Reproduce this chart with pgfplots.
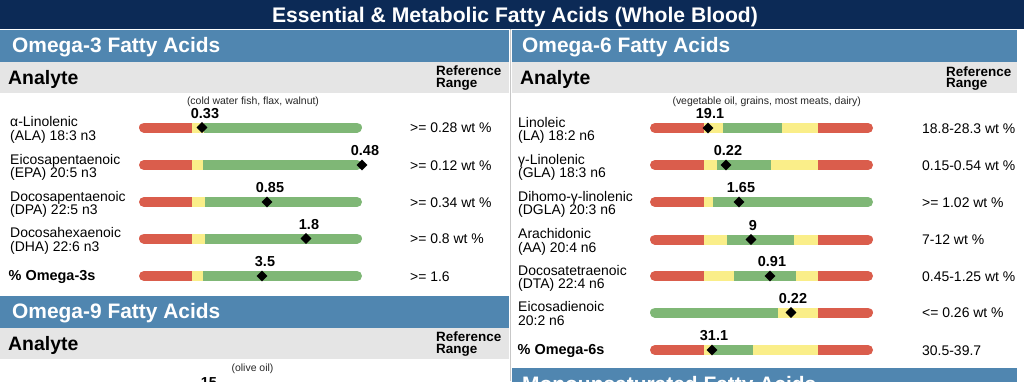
\documentclass[border=0pt]{standalone}
\usepackage{fontspec}
\setmainfont{Liberation Sans}
\usepackage{pgfplots}
\pgfplotsset{compat=1.18}
\definecolor{navy}{RGB}{12,42,86}
\definecolor{secblue}{RGB}{80,134,176}
\definecolor{hdrgray}{RGB}{229,229,229}
\definecolor{cr}{RGB}{218,93,76}
\definecolor{cy}{RGB}{250,238,137}
\definecolor{cg}{RGB}{127,183,118}
\newcommand\fs[2]{\fontsize{#1}{#2}\selectfont}
\newcommand\seg[4]{\addplot[draw=#1, line width=10bp, line cap=butt, forget plot] coordinates {(#2,#4) (#3,#4)};}
\newcommand\cseg[4]{\addplot[draw=#1, line width=10bp, line cap=round, forget plot] coordinates {(#2,#4) (#3,#4)};}
\newcommand\rowtwo[4]{%
  \node[anchor=base west, yshift=1bp, font=\fs{14}{16}, inner sep=0pt] at (axis cs:#1,#2) {#3};
  \node[anchor=base west, yshift=-12.5bp, font=\fs{14}{16}, inner sep=0pt] at (axis cs:#1,#2) {#4};}
\newcommand\rowb[3]{\node[anchor=base west, yshift=-4bp, font=\bfseries\fs{14.5}{16}, inner sep=0pt] at (axis cs:#1,#2) {#3};}
\newcommand\refr[3]{\node[anchor=base west, yshift=-5bp, font=\fs{14}{16}, inner sep=0pt] at (axis cs:#1,#2) {#3};}
\newcommand\sect[3]{\node[anchor=base west, text=white, font=\bfseries\fs{21}{25}, inner sep=0pt] at (axis cs:#1,#2) {#3};}
\newcommand\anal[2]{\node[anchor=base west, font=\bfseries\fs{19.5}{22}, inner sep=0pt] at (axis cs:#1,#2) {Analyte};}
\newcommand\refhdr[3]{%
  \node[anchor=base west, font=\bfseries\fs{13.5}{15}, inner sep=0pt] at (axis cs:#1,#2) {Reference};
  \node[anchor=base west, font=\bfseries\fs{13.5}{15}, inner sep=0pt] at (axis cs:#1,#3) {Range};}
\newcommand\sub[3]{\node[anchor=base, font=\fs{10.5}{12}, text=black!85, inner sep=0pt] at (axis cs:#1,#2) {#3};}
\begin{document}
\begin{tikzpicture}
\begin{axis}[name=main, at={(0,0)}, anchor=south west, scale only axis,
  width=1024bp, height=381bp, xmin=0, xmax=1024, ymin=0, ymax=381,
  y dir=reverse, hide axis, clip=false]
% panels
\fill[navy] (axis cs:0,0) rectangle (axis cs:1024,29);
\fill[secblue] (axis cs:0,30) rectangle (axis cs:508.5,62);
\fill[secblue] (axis cs:511.5,30) rectangle (axis cs:1017,62);
\fill[hdrgray] (axis cs:0,62) rectangle (axis cs:508.5,93);
\fill[hdrgray] (axis cs:511.5,62) rectangle (axis cs:1017,93);
\fill[secblue] (axis cs:0,296) rectangle (axis cs:508.5,328);
\fill[hdrgray] (axis cs:0,328) rectangle (axis cs:508.5,359);
\fill[secblue] (axis cs:511.5,368) rectangle (axis cs:1017,400);
\draw[black!22, line width=1bp] (axis cs:510,29) -- (axis cs:510,381);
% titles
\node[anchor=base, text=white, font=\bfseries\fs{21.2}{25}, inner sep=0pt] at (axis cs:515,22.7) {Essential \& Metabolic Fatty Acids (Whole Blood)};
\sect{12}{52.7}{Omega-3 Fatty Acids}
\sect{522}{52.5}{Omega-6 Fatty Acids}
\sect{12}{318.7}{Omega-9 Fatty Acids}
\sect{522}{391}{Monounsaturated Fatty Acids}
\anal{8}{84}
\anal{520}{84}
\anal{8}{350.5}
\refhdr{436}{75.5}{87}
\refhdr{946}{76}{87.5}
\refhdr{436}{341.5}{353}
\sub{253}{104}{(cold water fish, flax, walnut)}
\sub{766.7}{104}{(vegetable oil, grains, most meats, dairy)}
\sub{252.5}{371}{(olive oil)}
% left rows
\rowtwo{10}{127.5}{α-Linolenic}{(ALA) 18:3 n3}
\rowtwo{10}{165}{Eicosapentaenoic}{(EPA) 20:5 n3}
\rowtwo{10}{202}{Docosapentaenoic}{(DPA) 22:5 n3}
\rowtwo{10}{238.5}{Docosahexaenoic}{(DHA) 22:6 n3}
\rowb{8.5}{276}{\% Omega-3s}
\refr{410}{127.5}{>= 0.28 wt \%}
\refr{410}{165}{>= 0.12 wt \%}
\refr{410}{202}{>= 0.34 wt \%}
\refr{410}{238.5}{>= 0.8 wt \%}
\refr{410}{276}{>= 1.6}
% right rows
\rowtwo{518}{128}{Linoleic}{(LA) 18:2 n6}
\rowtwo{518}{165}{γ-Linolenic}{(GLA) 18:3 n6}
\rowtwo{518}{202}{Dihomo-γ-linolenic}{(DGLA) 20:3 n6}
\rowtwo{518}{239.5}{Arachidonic}{(AA) 20:4 n6}
\rowtwo{518}{276}{Docosatetraenoic}{(DTA) 22:4 n6}
\rowtwo{518}{312.5}{Eicosadienoic}{20:2 n6}
\rowb{517.5}{350}{\% Omega-6s}
\refr{922}{128}{18.8-28.3 wt \%}
\refr{922}{165}{0.15-0.54 wt \%}
\refr{922}{202}{>= 1.02 wt \%}
\refr{922}{239.5}{7-12 wt \%}
\refr{922}{276}{0.45-1.25 wt \%}
\refr{922}{312.5}{<= 0.26 wt \%}
\refr{922}{350}{30.5-39.7}
% left bars
\cseg{cg}{204}{357}{127.5} \cseg{cr}{144}{192}{127.5} \seg{cy}{192}{204}{127.5}
\cseg{cg}{203}{357}{165} \cseg{cr}{144}{192}{165} \seg{cy}{192}{203}{165}
\cseg{cg}{205}{357}{202} \cseg{cr}{144}{192}{202} \seg{cy}{192}{205}{202}
\cseg{cg}{205}{357}{238.5} \cseg{cr}{144}{192}{238.5} \seg{cy}{192}{205}{238.5}
\cseg{cg}{203}{357}{276} \cseg{cr}{144}{192}{276} \seg{cy}{192}{203}{276}
% right bars
\cseg{cr}{818}{868}{128} \cseg{cr}{655}{704}{128} \seg{cy}{704}{723}{128} \seg{cg}{723}{782}{128} \seg{cy}{782}{818}{128}
\cseg{cr}{818}{868}{165} \cseg{cr}{655}{704}{165} \seg{cy}{704}{717}{165} \seg{cg}{717}{771}{165} \seg{cy}{771}{818}{165}
\cseg{cg}{713}{868}{202} \cseg{cr}{655}{704}{202} \seg{cy}{704}{713}{202}
\cseg{cr}{818}{868}{239.5} \cseg{cr}{655}{704}{239.5} \seg{cy}{704}{727}{239.5} \seg{cg}{727}{794}{239.5} \seg{cy}{794}{818}{239.5}
\cseg{cr}{818}{868}{276} \cseg{cr}{655}{704}{276} \seg{cy}{704}{734}{276} \seg{cg}{734}{796}{276} \seg{cy}{796}{818}{276}
\cseg{cr}{818}{868}{312.5} \cseg{cg}{655}{778}{312.5} \seg{cy}{778}{818}{312.5}
\cseg{cr}{818}{868}{350} \cseg{cr}{655}{704}{350} \seg{cy}{704}{713}{350} \seg{cg}{713}{753}{350} \seg{cy}{753}{818}{350}
% markers
\addplot[only marks, mark=square*, mark size=3.6bp, mark options={rotate=45, draw=black, fill=black},
  point meta=explicit symbolic, nodes near coords,
  every node near coord/.style={anchor=base, xshift=3bp, yshift=9.5bp, font=\bfseries\fs{14.5}{16}, text=black, inner sep=0pt}]
  coordinates {(202,127.5)[0.33] (362,165)[0.48] (267,202)[0.85] (306,238.5)[1.8] (262,276)[3.5] (206,397)[15]};
\addplot[only marks, mark=square*, mark size=3.6bp, mark options={rotate=45, draw=black, fill=black},
  point meta=explicit symbolic, nodes near coords,
  every node near coord/.style={anchor=base, xshift=2bp, yshift=9.5bp, font=\bfseries\fs{14.5}{16}, text=black, inner sep=0pt}]
  coordinates {(708,128)[19.1] (726,165)[0.22] (739,202)[1.65] (751,239.5)[9] (770,276)[0.91] (791,312.5)[0.22] (712,350)[31.1]};
\end{axis}
\pgfresetboundingbox
\path[use as bounding box] (main.south west) rectangle (main.north east);
\end{tikzpicture}
\end{document}
